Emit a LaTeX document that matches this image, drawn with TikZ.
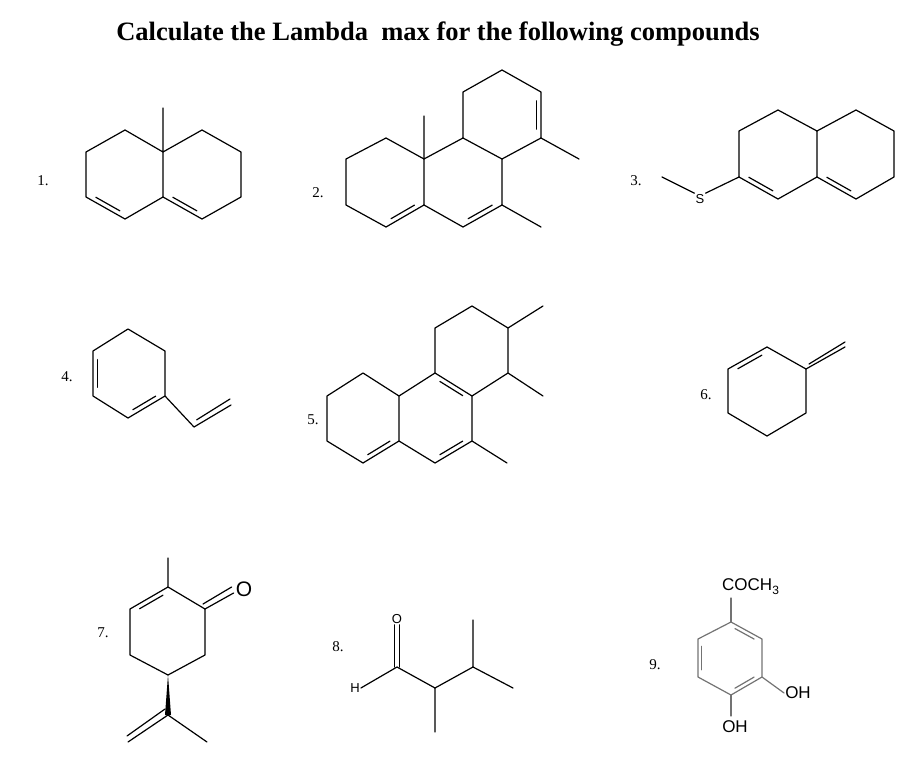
\documentclass[tikz,border=0pt]{standalone}
\usepackage{fontspec}
\setmainfont{Liberation Serif}
\newfontfamily\arial{Liberation Sans}
\usetikzlibrary{calc}
\tikzset{bond/.style={line width=1.2pt,line cap=round,line join=round},
 gbond/.style={bond,draw=black!55},
 lbl/.style={font=\fontsize{15}{15}\selectfont},
 atom/.style={font=\arial\fontsize{13}{13}\selectfont,inner sep=1pt},
 batom/.style={font=\arial\fontsize{21}{21}\selectfont,inner sep=1pt}}
\newcommand\inb[4][bond]{\draw[#1] ($($(#2)!0.15!(#3)$)!0.12!(#4)$) -- ($($(#3)!0.15!(#2)$)!0.12!(#4)$);}
\begin{document}
\begin{tikzpicture}[x=1pt,y=-1pt]
\useasboundingbox (0,0) rectangle (903,766);
\node[font=\bfseries\fontsize{26.5}{26.5}\selectfont] (title) at (438,34) {Calculate the Lambda\ \ max for the following compounds};
% 1
\node[lbl] (l1) at (43,181) {1.};
\coordinate (a1) at (163,108); \coordinate (a2) at (163,152); \coordinate (a3) at (125,130);
\coordinate (a4) at (86,152); \coordinate (a5) at (86,197); \coordinate (a6) at (125,219);
\coordinate (a7) at (163,197); \coordinate (a8) at (202,130); \coordinate (a9) at (241,152);
\coordinate (a10) at (241,197); \coordinate (a11) at (202,219);
\coordinate (ac1) at (125,175); \coordinate (ac2) at (202,175);
\draw[bond] (a1)--(a2)--(a3)--(a4)--(a5)--(a6)--(a7)--(a2)--(a8)--(a9)--(a10)--(a11)--(a7);
\inb{a5}{a6}{ac1} \inb{a7}{a11}{ac2}
% 2
\node[lbl] (l2) at (318,193) {2.};
\coordinate (b1) at (386,138); \coordinate (b2) at (346,159); \coordinate (b3) at (346,205);
\coordinate (b4) at (386,227); \coordinate (b5) at (424,205); \coordinate (b6) at (424,159);
\coordinate (b6m) at (424,116); \coordinate (b7) at (463,138); \coordinate (b8) at (463,92);
\coordinate (b9) at (502,70); \coordinate (b10) at (541,92); \coordinate (b11) at (541,138);
\coordinate (b12) at (502,159); \coordinate (b13) at (502,205); \coordinate (b14) at (463,227);
\coordinate (b11m) at (579,159); \coordinate (b13m) at (541,227);
\coordinate (bc1) at (386,182); \coordinate (bc2) at (463,182); \coordinate (bc3) at (502,115);
\draw[bond] (b1)--(b2)--(b3)--(b4)--(b5)--(b6)--(b1);
\draw[bond] (b6m)--(b6)--(b7)--(b8)--(b9)--(b10)--(b11)--(b12)--(b13)--(b14)--(b5);
\draw[bond] (b7)--(b12); \draw[bond] (b11)--(b11m); \draw[bond] (b13)--(b13m);
\inb{b4}{b5}{bc1} \inb{b14}{b13}{bc2} \inb{b10}{b11}{bc3}
% 3
\node[lbl] (l3) at (636,181) {3.};
\coordinate (c1) at (778,110); \coordinate (c2) at (739,131); \coordinate (c3) at (739,177);
\coordinate (c4) at (778,199); \coordinate (c5) at (817,177); \coordinate (c6) at (817,131);
\coordinate (c7) at (856,110); \coordinate (c8) at (894,131); \coordinate (c9) at (894,177);
\coordinate (c10) at (856,199); \coordinate (cm) at (662,177);
\coordinate (cc1) at (778,155); \coordinate (cc2) at (856,155);
\node[atom] (S) at (700,199) {S};
\draw[bond] (c1)--(c2)--(c3)--(c4)--(c5)--(c6)--(c1); \draw[bond] (c6)--(c7)--(c8)--(c9)--(c10)--(c5);
\draw[bond] (c3)--(S.north east); \draw[bond] (S.north west)--(cm);
\inb{c3}{c4}{cc1} \inb{c5}{c10}{cc2}
% 4
\node[lbl] (l4) at (67,377) {4.};
\coordinate (d1) at (128,329); \coordinate (d2) at (165,351); \coordinate (d3) at (165,396);
\coordinate (d4) at (128,418); \coordinate (d5) at (93,396); \coordinate (d6) at (93,351);
\coordinate (d7) at (194,427); \coordinate (d8) at (231,405); \coordinate (dc) at (128,373);
\draw[bond] (d1)--(d2)--(d3)--(d4)--(d5)--(d6)--(d1); \draw[bond] (d3)--(d7)--(d8);
\inb{d5}{d6}{dc} \inb{d4}{d3}{dc}
\draw[bond] ($($(d7)!0.1!(d8)$)+(-1,-5)$) -- ($(d8)+(-1,-6)$);
% 5
\node[lbl] (l5) at (313,420) {5.};
\coordinate (e1) at (363,373); \coordinate (e2) at (327,396); \coordinate (e3) at (327,441);
\coordinate (e4) at (363,463); \coordinate (e5) at (399,441); \coordinate (e6) at (399,396);
\coordinate (e7) at (435,373); \coordinate (e8) at (435,328); \coordinate (e9) at (472,306);
\coordinate (e10) at (508,328); \coordinate (e11) at (508,373); \coordinate (e12) at (472,396);
\coordinate (e13) at (472,441); \coordinate (e14) at (435,463);
\coordinate (e10m) at (543,306); \coordinate (e11m) at (543,396); \coordinate (e13m) at (507,463);
\coordinate (ec1) at (363,418); \coordinate (ec2) at (435,418);
\draw[bond] (e1)--(e2)--(e3)--(e4)--(e5)--(e6)--(e1);
\draw[bond] (e6)--(e7)--(e8)--(e9)--(e10)--(e11)--(e12)--(e13)--(e14)--(e5);
\draw[bond] (e7)--(e12); \draw[bond] (e10)--(e10m); \draw[bond] (e11)--(e11m); \draw[bond] (e13)--(e13m);
\inb{e4}{e5}{ec1} \inb{e7}{e12}{ec2} \inb{e14}{e13}{ec2}
% 6
\node[lbl] (l6) at (706,395) {6.};
\coordinate (f1) at (767,347); \coordinate (f2) at (806,369); \coordinate (f3) at (806,413);
\coordinate (f4) at (767,436); \coordinate (f5) at (728,413); \coordinate (f6) at (728,369);
\coordinate (f7) at (845,347); \coordinate (fc) at (767,391);
\draw[bond] (f1)--(f2)--(f3)--(f4)--(f5)--(f6)--(f1); \draw[bond] (f2)--(f7);
\inb{f6}{f1}{fc}
\draw[bond] ($(f2)+(3,-5)$) -- ($(f7)+(0,-5)$);
% 7
\node[lbl] (l7) at (103,633) {7.};
\coordinate (g1) at (168,587); \coordinate (g2) at (205,609); \coordinate (g3) at (205,655);
\coordinate (g4) at (168,675); \coordinate (g5) at (130,655); \coordinate (g6) at (130,609);
\coordinate (g1m) at (168,558); \coordinate (g7) at (168,715); \coordinate (g8) at (207,742);
\coordinate (g9) at (128,742); \coordinate (gc) at (168,631);
\node[batom] (O7) at (244,589) {O};
\draw[bond] (g1m)--(g1)--(g2)--(g3)--(g4)--(g5)--(g6)--(g1);
\draw[bond] (g2)--($(O7.west)+(-1,4)$);
\draw[bond] ($(g2)+(-2,-5)$)--($(O7.west)+(-3,-2)$);
\inb{g6}{g1}{gc}
\fill (g4) -- ($(g7)+(-3,0)$) -- ($(g7)+(3,0)$) -- cycle;
\draw[bond] (g7)--(g8); \draw[bond] (g7)--(g9);
\draw[bond] ($(g7)+(-3,-6)$)--($(g9)+(-1,-6)$);
% 8
\node[lbl] (l8) at (338,647) {8.};
\coordinate (h1) at (397,667); \coordinate (h2) at (435,688); \coordinate (h3) at (435,732);
\coordinate (h4) at (473,667); \coordinate (h5) at (473,620); \coordinate (h6) at (513,688);
\node[atom] (O8) at (397,619) {O}; \node[atom] (H8) at (355,688) {H};
\draw[bond] (H8.east)--(h1)--(h2)--(h3); \draw[bond] (h2)--(h4)--(h5); \draw[bond] (h4)--(h6);
\draw[bond] ($(h1)+(-2.5,0)$)--($(O8.south)+(-2.5,0)$); \draw[bond] ($(h1)+(2.5,0)$)--($(O8.south)+(2.5,0)$);
% 9
\node[lbl] (l9) at (655,665) {9.};
\coordinate (k1) at (731,622); \coordinate (k2) at (762,639); \coordinate (k3) at (762,677);
\coordinate (k4) at (731,695); \coordinate (k5) at (698,677); \coordinate (k6) at (698,639);
\coordinate (kc) at (730,658);
\node[atom,font=\arial\fontsize{17}{17}\selectfont,anchor=west] (COCH) at (721,587) {COCH\raisebox{-4pt}{\fontsize{12}{12}\selectfont 3}};
\node[atom,font=\arial\fontsize{17}{17}\selectfont] (OH1) at (798,693) {OH};
\node[atom,font=\arial\fontsize{17}{17}\selectfont] (OH2) at (735,727) {OH};
\draw[gbond] (k1)--(k2)--(k3)--(k4)--(k5)--(k6)--(k1);
\draw[gbond] (k1)--(731,598); \draw[gbond] (k3)--(OH1.west); \draw[gbond] (k4)--(731,716);
\inb[gbond]{k5}{k6}{kc} \inb[gbond]{k1}{k2}{kc} \inb[gbond]{k4}{k3}{kc}
\end{tikzpicture}
\end{document}
